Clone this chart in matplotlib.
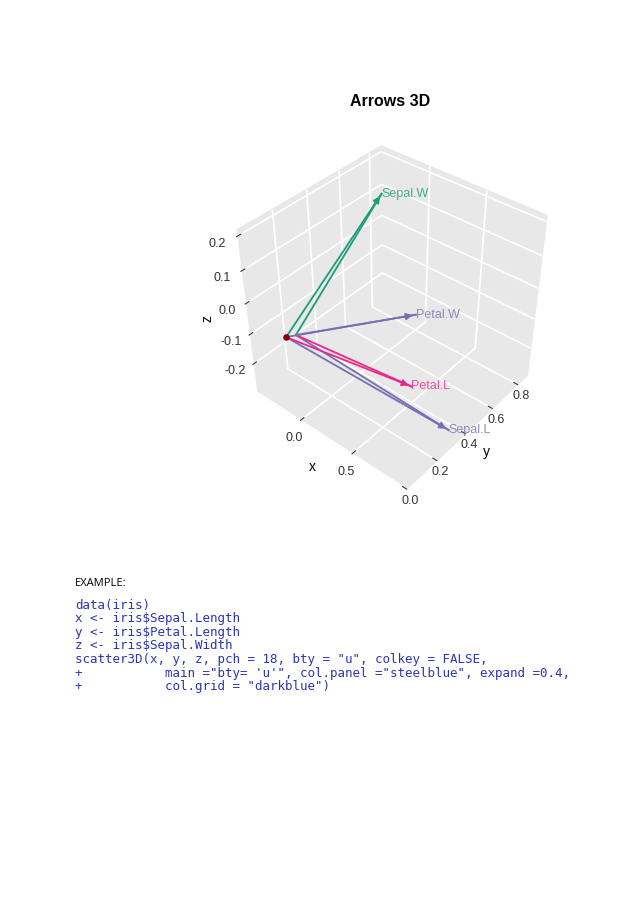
import matplotlib
matplotlib.use("Agg")
import matplotlib.pyplot as plt
from mpl_toolkits.mplot3d import proj3d

# arrow data
names = ["Sepal.L", "Sepal.W", "Petal.L", "Petal.W"]
x1 = [0.89, -0.46, 0.99, 0.96]
y1 = [0.36, 0.88, 0.02, 0.06]
z1 = [-0.29, 0.07, 0.03, 0.21]
x0 = [-0.07, -0.07, -0.07, -0.07]
y0 = [0.0, 0.0, 0.0, 0.0]
z0 = [-0.03, -0.03, -0.03, -0.03]
# the arrow outline gives each arrow a second, slightly shifted shaft
dx0 = 0.035
dy0 = 0.035
cols = ["#7570B3", "#1B9E77", "#E7298A", "#7570B3"]

xticks = [0.0, 0.5]
yticks = [0.0, 0.2, 0.4, 0.6, 0.8]
zticks = [-0.2, -0.1, 0.0, 0.1, 0.2]

code_lines = [
    "data(iris)",
    "x <- iris$Sepal.Length",
    "y <- iris$Petal.Length",
    "z <- iris$Sepal.Width",
    "scatter3D(x, y, z, pch = 18, bty = \"u\", colkey = FALSE,",
    "+           main =\"bty= 'u'\", col.panel =\"steelblue\", expand =0.4,",
    "+           col.grid = \"darkblue\")",
]

plt.rcParams['font.family'] = ['Liberation Sans', 'DejaVu Sans']
plt.rcParams['axes.unicode_minus'] = False
plt.rcParams['grid.color'] = 'white'
plt.rcParams['grid.linewidth'] = 1.2

fig = plt.figure(figsize=(6.38, 9.02), dpi=100)
ax = fig.add_axes([0.338, 0.4525, 0.542, 0.40], projection='3d')
ax.set_proj_type('persp', focal_length=0.5)
ax.view_init(elev=39, azim=-50)
ax.set_box_aspect((1, 1, 1))

ax.set_xlim(-0.46, 0.99)
ax.set_ylim(0.0, 0.88)
ax.set_zlim(-0.298, 0.217)
ax.set_xticks(xticks)
ax.set_yticks(yticks)
ax.set_zticks(zticks)

for axis in (ax.xaxis, ax.yaxis, ax.zaxis):
    axis.set_pane_color((0.91, 0.91, 0.91, 1.0))
    axis.line.set_color((0, 0, 0, 0))
    axis._axinfo['tick']['inward_factor'] = 0.0
    axis._axinfo['tick']['outward_factor'] = 0.3
    axis._axinfo['tick']['color'] = '#444444'
ax.zaxis.set_ticks_position('lower')
ax.zaxis.set_label_position('lower')
ax.tick_params(labelsize=9, colors='#333333', pad=0)
ax.tick_params(axis='y', pad=-5)
ax.tick_params(axis='x', pad=-2)
ax.set_xlabel('x', fontsize=10, labelpad=-6)
ax.set_ylabel('y', fontsize=10, labelpad=-8)
ax.set_zlabel('z', fontsize=10, labelpad=-4, rotation=90)

for i in range(len(names)):
    ax.plot([x0[i], x1[i]], [y0[i], y1[i]], [z0[i], z1[i]], color=cols[i], lw=1.3)
    ax.plot([x0[i] + dx0, x1[i]], [y0[i] + dy0, y1[i]], [z0[i], z1[i]],
            color=cols[i], lw=1.3)
    ax.text(x1[i], y1[i], z1[i], names[i], color=cols[i], alpha=0.8, fontsize=9,
            ha='left', va='center')

ax.scatter(x0[:1], y0[:1], z0[:1], color='darkred', s=14, depthshade=False)

# filled arrow heads drawn in projected coordinates
M = ax.get_proj()
for i in range(len(names)):
    xe, ye, _ = proj3d.proj_transform(x1[i], y1[i], z1[i], M)
    xs, ys, _ = proj3d.proj_transform(x0[i] + 0.9 * (x1[i] - x0[i]),
                                      y0[i] + 0.9 * (y1[i] - y0[i]),
                                      z0[i] + 0.9 * (z1[i] - z0[i]), M)
    ax.annotate('', xy=(xe, ye), xytext=(xs, ys),
                arrowprops=dict(arrowstyle='-|>', color=cols[i], lw=1.2,
                                mutation_scale=10))

fig.text(390 / 638, 1 - 102 / 902, "Arrows 3D", fontsize=11.5, fontweight='bold',
         ha='center', va='center')

fig.text(75 / 638, 1 - 583 / 902, "EXAMPLE:", fontsize=8, family='Open Sans',
         ha='left', va='center')
for k, line in enumerate(code_lines):
    fig.text(75 / 638, 1 - (605 + 13.6 * k) / 902, line, fontsize=9,
             family='DejaVu Sans Mono', color='#2a35b5', ha='left', va='center')

fig.savefig("out.png", dpi=100)
